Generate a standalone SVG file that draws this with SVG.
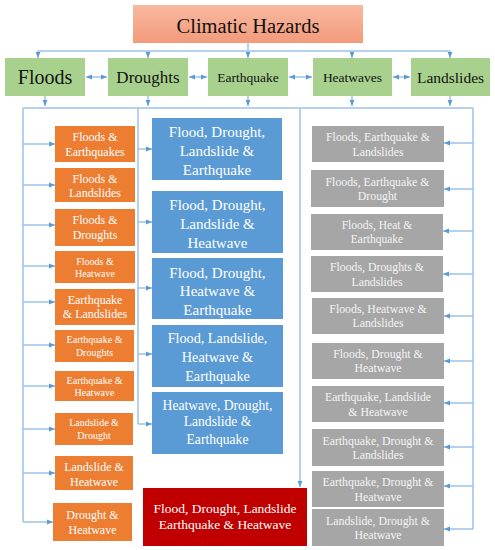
<svg xmlns="http://www.w3.org/2000/svg" width="495" height="550" viewBox="0 0 495 550">
<defs>
<linearGradient id="gTop" x1="0" y1="0" x2="0" y2="1">
<stop offset="0" stop-color="#f8b9a1"/>
<stop offset="1" stop-color="#f29b7a"/>
</linearGradient>
<marker id="ah" viewBox="0 0 10 10" refX="10" refY="5" markerWidth="6" markerHeight="6" orient="auto-start-reverse" markerUnits="userSpaceOnUse">
<path d="M0,1 L10,5 L0,9 z" fill="#5b9bd5"/>
</marker>
<style>
text{font-family:"Liberation Serif","Times New Roman",serif;text-anchor:middle}
.top{fill:url(#gTop)}
.grn{fill:#a9d18e}
.org{fill:#ed7d31}
.blu{fill:#5b9bd5}
.red{fill:#c00000}
.gry{fill:#a6a6a6}
.dk{fill:#111}
.wt{fill:#fff}
.gt{fill:#f4f4f4}
.ln{fill:none;stroke:#9dc3e6;stroke-width:1.5}
.ar{fill:none;stroke:#9dc3e6;stroke-width:1.5;marker-end:url(#ah)}
.da{fill:none;stroke:#9dc3e6;stroke-width:1.5;marker-end:url(#ah);marker-start:url(#ah)}
</style>
</defs>
<rect width="495" height="550" fill="#fff"/>

<g id="connectors">
<!-- top distribution -->
<line class="ln" x1="38" y1="51" x2="450" y2="51"/>
<line class="ln" x1="248" y1="43" x2="248" y2="51"/>
<line class="ar" x1="38" y1="51" x2="38" y2="58"/>
<line class="ar" x1="148" y1="51" x2="148" y2="58"/>
<line class="ar" x1="248" y1="51" x2="248" y2="58"/>
<line class="ar" x1="352" y1="51" x2="352" y2="58"/>
<line class="ar" x1="450" y1="51" x2="450" y2="58"/>
<!-- double arrows -->
<line class="da" x1="86" y1="77" x2="107" y2="77"/>
<line class="da" x1="189" y1="77" x2="207" y2="77"/>
<line class="da" x1="289" y1="77" x2="312" y2="77"/>
<line class="da" x1="393" y1="77" x2="410" y2="77"/>
<!-- down from green boxes -->
<line class="ar" x1="45" y1="96" x2="45" y2="106"/>
<line class="ar" x1="148" y1="96" x2="148" y2="106"/>
<line class="ar" x1="248" y1="96" x2="248" y2="106"/>
<line class="ar" x1="352" y1="96" x2="352" y2="106"/>
<line class="ar" x1="450" y1="96" x2="450" y2="106"/>
<line class="ln" x1="23" y1="108" x2="473" y2="108"/>
<!-- orange feed -->
<line class="ln" x1="23" y1="108" x2="23" y2="522"/>
<line class="ar" x1="23" y1="144" x2="55" y2="144"/>
<line class="ar" x1="23" y1="185" x2="55" y2="185"/>
<line class="ar" x1="23" y1="225" x2="55" y2="225"/>
<line class="ar" x1="23" y1="266" x2="55" y2="266"/>
<line class="ar" x1="23" y1="302" x2="55" y2="302"/>
<line class="ar" x1="23" y1="345" x2="55" y2="345"/>
<line class="ar" x1="23" y1="386" x2="55" y2="386"/>
<line class="ar" x1="23" y1="429" x2="55" y2="429"/>
<line class="ar" x1="23" y1="473" x2="55" y2="473"/>
<line class="ar" x1="23" y1="522" x2="53" y2="522"/>
<!-- blue feed -->
<line class="ln" x1="138" y1="108" x2="138" y2="424"/>
<line class="ar" x1="138" y1="149" x2="152" y2="149"/>
<line class="ar" x1="138" y1="222" x2="152" y2="222"/>
<line class="ar" x1="138" y1="288" x2="152" y2="288"/>
<line class="ar" x1="138" y1="354" x2="152" y2="354"/>
<line class="ar" x1="138" y1="424" x2="152" y2="424"/>
<!-- red feed -->
<line class="ar" x1="300" y1="108" x2="300" y2="487"/>
<!-- gray feed -->
<line class="ln" x1="473" y1="108" x2="473" y2="529"/>
<line class="ar" x1="473" y1="143" x2="444" y2="143"/>
<line class="ar" x1="473" y1="189" x2="444" y2="189"/>
<line class="ar" x1="473" y1="231" x2="443" y2="231"/>
<line class="ar" x1="473" y1="274" x2="443" y2="274"/>
<line class="ar" x1="473" y1="316" x2="444" y2="316"/>
<line class="ar" x1="473" y1="361" x2="444" y2="361"/>
<line class="ar" x1="473" y1="403" x2="444" y2="403"/>
<line class="ar" x1="473" y1="447" x2="444" y2="447"/>
<line class="ar" x1="473" y1="486" x2="444" y2="486"/>
<line class="ar" x1="473" y1="529" x2="444" y2="529"/>
</g>

<g id="climatic-hazards"><rect class="top" x="133" y="5" width="230" height="38"/><text class="dk" x="248" y="33" font-size="20.5">Climatic Hazards</text></g>

<g id="floods"><rect class="grn" x="5" y="58" width="80" height="38"/><text class="dk" x="45" y="83.5" font-size="20">Floods</text></g>
<g id="droughts"><rect class="grn" x="108" y="58" width="80" height="38"/><text class="dk" x="148" y="83" font-size="17">Droughts</text></g>
<g id="earthquake"><rect class="grn" x="208" y="58" width="80" height="38"/><text class="dk" x="248" y="82" font-size="13.5">Earthquake</text></g>
<g id="heatwaves"><rect class="grn" x="313" y="58" width="79" height="38"/><text class="dk" x="352.5" y="82" font-size="13.5">Heatwaves</text></g>
<g id="landslides"><rect class="grn" x="411" y="58" width="79" height="38"/><text class="dk" x="450.5" y="82.5" font-size="15.5">Landslides</text></g>

<g id="o1"><rect class="org" x="55" y="126" width="80" height="36"/><text class="wt" font-size="12"><tspan x="95" y="141">Floods &amp;</tspan><tspan x="95" y="156">Earthquakes</tspan></text></g>
<g id="o2"><rect class="org" x="55" y="168" width="80" height="34"/><text class="wt" font-size="12"><tspan x="95" y="183">Floods &amp;</tspan><tspan x="95" y="197">Landslides</tspan></text></g>
<g id="o3"><rect class="org" x="55" y="209" width="80" height="37"/><text class="wt" font-size="12"><tspan x="95" y="224">Floods &amp;</tspan><tspan x="95" y="239">Droughts</tspan></text></g>
<g id="o4"><rect class="org" x="55" y="251" width="80" height="32"/><text class="wt" font-size="10"><tspan x="95" y="264.5">Floods &amp;</tspan><tspan x="95" y="277">Heatwave</tspan></text></g>
<g id="o5"><rect class="org" x="55" y="289" width="80" height="36"/><text class="wt" font-size="12"><tspan x="95" y="304">Earthquake</tspan><tspan x="95" y="318">&amp; Landslides</tspan></text></g>
<g id="o6"><rect class="org" x="55" y="330" width="79" height="32"/><text class="wt" font-size="10"><tspan x="94.5" y="342.5">Earthquake &amp;</tspan><tspan x="94.5" y="355.5">Droughts</tspan></text></g>
<g id="o7"><rect class="org" x="55" y="371" width="79" height="30"/><text class="wt" font-size="10"><tspan x="94.5" y="383.5">Earthquake &amp;</tspan><tspan x="94.5" y="396">Heatwave</tspan></text></g>
<g id="o8"><rect class="org" x="55" y="413" width="78" height="32"/><text class="wt" font-size="10"><tspan x="94" y="426">Landslide &amp;</tspan><tspan x="94" y="438.5">Drought</tspan></text></g>
<g id="o9"><rect class="org" x="55" y="456" width="78" height="34"/><text class="wt" font-size="12"><tspan x="94" y="470.5">Landslide &amp;</tspan><tspan x="94" y="486">Heatwave</tspan></text></g>
<g id="o10"><rect class="org" x="53" y="503" width="79" height="38"/><text class="wt" font-size="12"><tspan x="92.5" y="518.5">Drought &amp;</tspan><tspan x="92.5" y="534">Heatwave</tspan></text></g>

<g id="b1"><rect class="blu" x="152" y="118" width="130" height="62"/><text class="wt" font-size="15"><tspan x="217" y="136.5">Flood, Drought,</tspan><tspan x="217" y="155.5">Landslide &amp;</tspan><tspan x="217" y="174.5">Earthquake</tspan></text></g>
<g id="b2"><rect class="blu" x="152" y="191" width="131" height="62"/><text class="wt" font-size="15"><tspan x="217.5" y="210">Flood, Drought,</tspan><tspan x="217.5" y="228.5">Landslide &amp;</tspan><tspan x="217.5" y="247.5">Heatwave</tspan></text></g>
<g id="b3"><rect class="blu" x="152" y="258" width="131" height="61"/><text class="wt" font-size="15"><tspan x="217.5" y="277.5">Flood, Drought,</tspan><tspan x="217.5" y="296">Heatwave &amp;</tspan><tspan x="217.5" y="314.5">Earthquake</tspan></text></g>
<g id="b4"><rect class="blu" x="152" y="325" width="131" height="62"/><text class="wt" font-size="14.2"><tspan x="217.5" y="343">Flood, Landslide,</tspan><tspan x="217.5" y="362">Heatwave &amp;</tspan><tspan x="217.5" y="381.3">Earthquake</tspan></text></g>
<g id="b5"><rect class="blu" x="152" y="392" width="131" height="62"/><text class="wt" font-size="13.6"><tspan x="217.5" y="409.5">Heatwave, Drought,</tspan><tspan x="217.5" y="426">Landslide &amp;</tspan><tspan x="217.5" y="443.5">Earthquake</tspan></text></g>

<g id="red"><rect class="red" x="143" y="488" width="164" height="58"/><text class="wt" font-size="13.5"><tspan x="225" y="512.8">Flood, Drought, Landslide</tspan><tspan x="225" y="528.5">Earthquake &amp; Heatwave</tspan></text></g>

<g id="g1"><rect class="gry" x="312" y="126" width="132" height="36"/><text class="gt" font-size="11.8"><tspan x="378" y="141.3">Floods, Earthquake &amp;</tspan><tspan x="378" y="156">Landslides</tspan></text></g>
<g id="g2"><rect class="gry" x="311" y="170" width="133" height="37"/><text class="gt" font-size="11.8"><tspan x="377.5" y="185.7">Floods, Earthquake &amp;</tspan><tspan x="377.5" y="200">Drought</tspan></text></g>
<g id="g3"><rect class="gry" x="311" y="214" width="132" height="36"/><text class="gt" font-size="11.5"><tspan x="377" y="229">Floods, Heat &amp;</tspan><tspan x="377" y="243.3">Earthquake</tspan></text></g>
<g id="g4"><rect class="gry" x="311" y="256" width="132" height="36"/><text class="gt" font-size="11.8"><tspan x="377" y="271.3">Floods, Droughts &amp;</tspan><tspan x="377" y="286.3">Landslides</tspan></text></g>
<g id="g5"><rect class="gry" x="312" y="298" width="132" height="36"/><text class="gt" font-size="11.8"><tspan x="378" y="313.3">Floods, Heatwave &amp;</tspan><tspan x="378" y="327.3">Landslides</tspan></text></g>
<g id="g6"><rect class="gry" x="312" y="343" width="132" height="36"/><text class="gt" font-size="11.8"><tspan x="378" y="358">Floods, Drought &amp;</tspan><tspan x="378" y="372.3">Heatwave</tspan></text></g>
<g id="g7"><rect class="gry" x="312" y="386" width="132" height="36"/><text class="gt" font-size="11.8"><tspan x="378" y="401.3">Earthquake, Landslide</tspan><tspan x="378" y="416">&amp; Heatwave</tspan></text></g>
<g id="g8"><rect class="gry" x="312" y="429" width="132" height="37"/><text class="gt" font-size="11.8"><tspan x="378" y="444.7">Earthquake, Drought &amp;</tspan><tspan x="378" y="459">Landslides</tspan></text></g>
<g id="g9"><rect class="gry" x="312" y="471" width="132" height="36"/><text class="gt" font-size="11.8"><tspan x="378" y="486.3">Earthquake, Drought &amp;</tspan><tspan x="378" y="500.7">Heatwave</tspan></text></g>
<g id="g10"><rect class="gry" x="312" y="509" width="132" height="37"/><text class="gt" font-size="11.8"><tspan x="378" y="524.7">Landslide, Drought &amp;</tspan><tspan x="378" y="539.3">Heatwave</tspan></text></g>
</svg>
